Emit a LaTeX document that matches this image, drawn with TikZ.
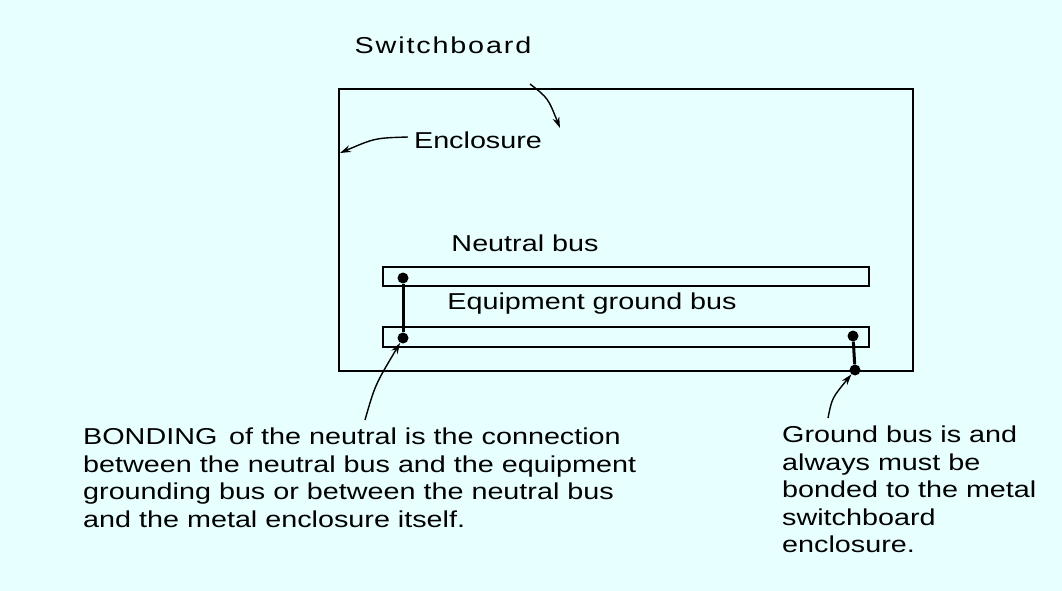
\documentclass[tikz,border=0pt]{standalone}
\usepackage{fontspec}
\setmainfont{Liberation Sans}[FakeStretch=1.25]
\usetikzlibrary{arrows.meta}
\definecolor{bg}{HTML}{E8FFFF}
\begin{document}
\begin{tikzpicture}[x=1pt,y=-1pt,
  lbl/.style={font=\fontsize{23}{27}\selectfont,inner sep=0pt},
  blk/.style={font=\fontsize{23}{27.5}\selectfont,inner sep=0pt,align=left,anchor=north west},
  box/.style={draw,line width=1.8pt},
  arr/.style={-{Stealth[length=11pt,width=7pt]},line width=1.4pt},
  dot/.style={circle,fill,inner sep=0pt,minimum size=11pt}]
\fill[bg] (0,0) rectangle (1062,591);
\useasboundingbox (0,0) rectangle (1062,591);
\node[box,minimum width=574pt,minimum height=282pt,anchor=north west,inner sep=0pt] (enc) at (338,88) {};
\node[box,minimum width=486pt,minimum height=19pt,anchor=north west,inner sep=0pt] (nb) at (382,266) {};
\node[box,minimum width=486pt,minimum height=20pt,anchor=north west,inner sep=0pt] (gb) at (382,326) {};
\node[dot] (d1) at (403,278) {};
\node[dot] (d2) at (403,338) {};
\node[dot] (d3) at (853,336) {};
\node[dot] (d4) at (855,370) {};
\draw[line width=3pt] (d1) -- (d2);
\draw[line width=3pt] (d3) -- (d4);
\node[lbl,font=\fontsize{23}{27}\addfontfeature{LetterSpace=8}] (sw) at (443,45) {Switchboard};
\node[lbl] (en) at (478,140) {Enclosure};
\node[lbl] (nl) at (525,243) {Neutral bus};
\node[lbl] (el) at (592,304) {Equipment ground bus};
\coordinate (swt) at (560,128);
\coordinate (ent) at (340,153);
\draw[arr] (530,84) .. controls (548,98) .. (swt);
\draw[arr] (408,137) .. controls (375,138) .. (ent);
\node[blk] (bt) at (83,428) {BONDING\, of the neutral is the connection\\between the neutral bus and the equipment\\grounding bus or between the neutral bus\\and the metal enclosure itself.};
\node[blk] (gt) at (782,426) {Ground bus is and\\always must be\\bonded to the metal\\switchboard\\enclosure.};
\draw[arr] (365,420) .. controls (375,385) .. (d2);
\draw[arr] (828,418) .. controls (832,398) .. (d4);
\end{tikzpicture}
\end{document}
